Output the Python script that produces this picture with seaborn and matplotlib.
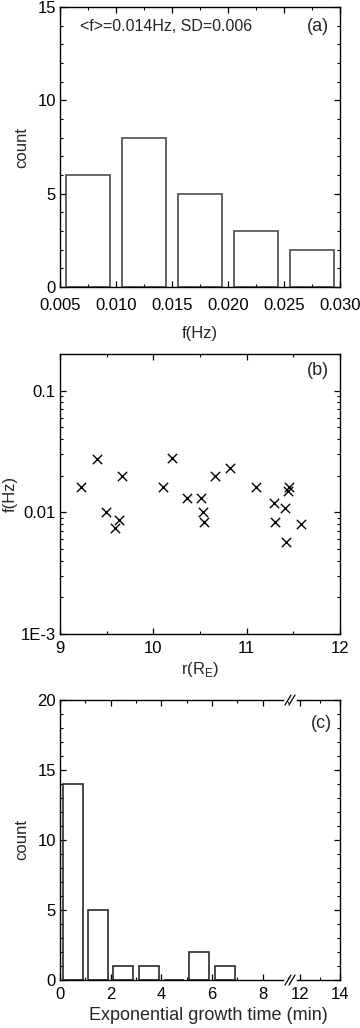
import matplotlib
matplotlib.use('Agg')
import matplotlib.pyplot as plt
import numpy as np
import seaborn as sns
from matplotlib.ticker import MultipleLocator, LogLocator, NullFormatter

# Panel (a): frequency histogram
freq_edges = [0.005, 0.010, 0.015, 0.020, 0.025, 0.030]
freq_counts = [6, 8, 5, 3, 2]

# Panel (b): frequency vs radial distance
r_vals = [9.23, 9.40, 9.49, 9.59, 9.63, 9.66, 10.10, 10.20, 10.36, 10.51, 10.53,
          10.54, 10.66, 10.82, 11.10, 11.29, 11.30, 11.41, 11.42, 11.45, 11.44, 11.58]
f_vals = [0.0160, 0.0276, 0.0100, 0.0074, 0.0087, 0.0200, 0.0160, 0.0280, 0.0130, 0.0130, 0.0100,
          0.0083, 0.0200, 0.0230, 0.0160, 0.0120, 0.0084, 0.0108, 0.0057, 0.0162, 0.0151, 0.0080]

# Panel (c): growth time histogram
growth_edges = [0, 1, 2, 3, 4, 5, 6, 7]
growth_counts = [14, 5, 1, 1, 0, 2, 1]

sns.set_theme(style='ticks')
plt.rcParams['font.family'] = ['Liberation Sans', 'DejaVu Sans']
plt.rcParams['axes.linewidth'] = 1.0
plt.rcParams['axes.edgecolor'] = 'black'

W, H = 360, 1028
fig = plt.figure(figsize=(W / 100, H / 100), dpi=100)

def box(l, t, r, b):
    return [l / W, 1 - b / H, (r - l) / W, (b - t) / H]

bar_col = '#4a4a4a'
fs = 12      # tick labels
lfs = 12     # axis labels
pfs = 13     # panel letters

def style_ticks(ax):
    ax.tick_params(which='both', direction='in', top=True, right=True, colors='black',
                   labelsize=fs, labelcolor='black')
    ax.tick_params(which='major', length=4, width=0.9, pad=3)
    ax.tick_params(which='minor', length=2.5, width=0.8)

# (a)
ax_a = fig.add_axes(box(60, 7, 340, 287))
centers = 0.5 * (np.array(freq_edges[:-1]) + np.array(freq_edges[1:]))
sns.histplot(x=centers, weights=freq_counts, bins=freq_edges, shrink=0.8, fill=False,
             color=bar_col, linewidth=1.2, ax=ax_a)
ax_a.set_xlim(0.005, 0.030)
ax_a.set_ylim(0, 15)
ax_a.set_xticks(freq_edges, labels=[f'{v:.3f}' for v in freq_edges])
ax_a.xaxis.set_minor_locator(MultipleLocator(0.0025))
ax_a.yaxis.set_major_locator(MultipleLocator(5))
ax_a.yaxis.set_minor_locator(MultipleLocator(1))
style_ticks(ax_a)
ax_a.tick_params(axis='x', pad=8)
ax_a.set_xlabel('f(Hz)', fontsize=lfs, labelpad=9)
ax_a.set_ylabel('count', fontsize=lfs, labelpad=6)
ax_a.text(0.07, 0.93, '<f>=0.014Hz, SD=0.006', transform=ax_a.transAxes, fontsize=11.5,
          ha='left', va='center')
ax_a.text(0.96, 0.93, '(a)', transform=ax_a.transAxes, fontsize=pfs, ha='right', va='center')

# (b)
ax_b = fig.add_axes(box(60, 354, 340, 634))
sns.scatterplot(x=r_vals, y=f_vals, marker='x', s=45, color='black', linewidth=1.0, ax=ax_b)
ax_b.set_yscale('log')
ax_b.set_xlim(9, 12)
ax_b.set_ylim(1e-3, 0.2)
ax_b.set_xticks([9, 10, 11, 12])
ax_b.xaxis.set_minor_locator(MultipleLocator(0.5))
ax_b.set_yticks([1e-3, 1e-2, 1e-1], labels=['1E-3', '0.01', '0.1'])
ax_b.yaxis.set_minor_locator(LogLocator(base=10, subs=np.arange(2, 10)))
ax_b.yaxis.set_minor_formatter(NullFormatter())
style_ticks(ax_b)
ax_b.tick_params(axis='x', pad=5)
ax_b.set_xlabel('r(R$_\\mathregular{E}$)', fontsize=lfs, labelpad=3)
ax_b.set_ylabel('f(Hz)', fontsize=lfs, labelpad=2)
ax_b.text(0.96, 0.94, '(b)', transform=ax_b.transAxes, fontsize=pfs, ha='right', va='center')

# (c) broken x axis: 0..9.08 and 11.5..14
ax_c1 = fig.add_axes(box(60, 700, 290, 980))
ax_c2 = fig.add_axes(box(290, 700, 340, 980))
gcent = 0.5 * (np.array(growth_edges[:-1]) + np.array(growth_edges[1:]))
sns.histplot(x=gcent, weights=growth_counts, bins=growth_edges, shrink=0.8, fill=False,
             color='#2a2a2a', linewidth=1.2, ax=ax_c1)
ax_c1.set_xlim(0, 9.08)
ax_c2.set_xlim(11.5, 14)
for ax in (ax_c1, ax_c2):
    ax.set_ylim(0, 20)
    ax.yaxis.set_major_locator(MultipleLocator(5))
    ax.yaxis.set_minor_locator(MultipleLocator(1))
    style_ticks(ax)
    ax.tick_params(axis='x', pad=5)
ax_c1.set_xticks([0, 2, 4, 6, 8])
ax_c1.xaxis.set_minor_locator(MultipleLocator(1))
ax_c2.set_xticks([12, 14])
ax_c2.xaxis.set_minor_locator(MultipleLocator(1))
ax_c1.spines['right'].set_visible(False)
ax_c2.spines['left'].set_visible(False)
ax_c1.tick_params(which='both', right=False)
ax_c2.tick_params(which='both', left=False, labelleft=False)
ax_c2.set_ylabel('')
ax_c1.set_ylabel('count', fontsize=lfs, labelpad=6)
ax_c1.set_xlabel('')
fig.text(208 / W, 1 - 1015 / H, 'Exponential growth time (min)', fontsize=13,
         ha='center', va='center')
fig.text(332 / W, 1 - 724 / H, '(c)', fontsize=pfs, ha='right', va='center')

# break marks
for yb in (700, 980):
    fig.add_artist(plt.Line2D([285 / W, 295 / W], [1 - yb / H, 1 - yb / H], color='white',
                              linewidth=2.0))
    for dx in (-2, 2):
        x0 = (290 + dx) / W
        fig.add_artist(plt.Line2D([x0 - 3 / W, x0 + 3 / W], [1 - (yb + 5) / H, 1 - (yb - 5) / H],
                                  color='black', linewidth=0.9))

fig.savefig('out.png', dpi=100)
